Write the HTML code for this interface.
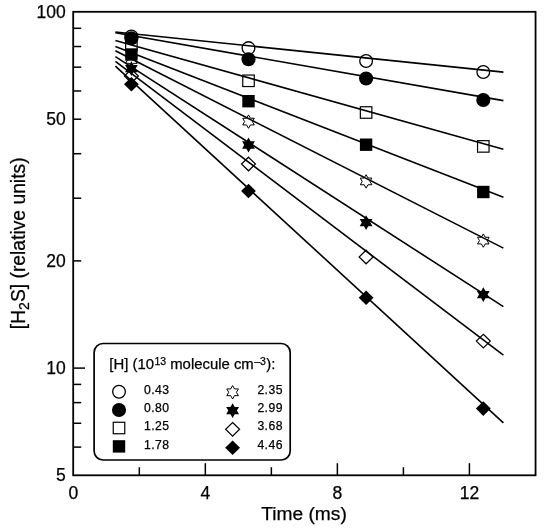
<!DOCTYPE html>
<html><head><meta charset="utf-8"><style>
html,body{margin:0;padding:0;background:#fff;width:550px;height:530px;overflow:hidden}
svg{display:block;font-family:"Liberation Sans",sans-serif}
text{stroke:#000;stroke-width:0.25px}
</style></head><body>
<svg width="550" height="530" viewBox="0 0 550 530">
<rect width="550" height="530" fill="#fff"/>
<g><line x1="115.4" y1="32.0" x2="503.4" y2="72.1" stroke="#000" stroke-width="1.6"/><line x1="115.4" y1="32.8" x2="503.4" y2="100.6" stroke="#000" stroke-width="1.6"/><line x1="115.4" y1="40.5" x2="503.4" y2="149.2" stroke="#000" stroke-width="1.6"/><line x1="115.4" y1="46.4" x2="503.4" y2="197.2" stroke="#000" stroke-width="1.6"/><line x1="115.4" y1="50.8" x2="503.4" y2="248.1" stroke="#000" stroke-width="1.6"/><line x1="115.4" y1="56.6" x2="503.4" y2="306.7" stroke="#000" stroke-width="1.6"/><line x1="115.4" y1="61.3" x2="503.4" y2="355.1" stroke="#000" stroke-width="1.6"/><line x1="115.4" y1="66.2" x2="503.4" y2="422.8" stroke="#000" stroke-width="1.6"/><circle cx="131.40" cy="36.40" r="6.35" fill="none" stroke="#000" stroke-width="1.3"/><circle cx="248.50" cy="48.10" r="6.35" fill="none" stroke="#000" stroke-width="1.3"/><circle cx="366.10" cy="61.00" r="6.35" fill="none" stroke="#000" stroke-width="1.3"/><circle cx="483.30" cy="72.05" r="6.35" fill="none" stroke="#000" stroke-width="1.3"/><circle cx="131.40" cy="38.20" r="7.05" fill="#000"/><circle cx="248.50" cy="59.20" r="7.05" fill="#000"/><circle cx="366.10" cy="78.50" r="7.05" fill="#000"/><circle cx="483.30" cy="99.95" r="7.05" fill="#000"/><rect x="125.65" y="39.25" width="11.5" height="11.5" fill="none" stroke="#000" stroke-width="1.2"/><rect x="242.75" y="75.05" width="11.5" height="11.5" fill="none" stroke="#000" stroke-width="1.2"/><rect x="360.35" y="106.75" width="11.5" height="11.5" fill="none" stroke="#000" stroke-width="1.2"/><rect x="477.55" y="140.65" width="11.5" height="11.5" fill="none" stroke="#000" stroke-width="1.2"/><rect x="125.20" y="48.30" width="12.4" height="12.4" fill="#000"/><rect x="242.30" y="95.00" width="12.4" height="12.4" fill="#000"/><rect x="359.90" y="138.50" width="12.4" height="12.4" fill="#000"/><rect x="477.10" y="185.80" width="12.4" height="12.4" fill="#000"/><polygon points="131.40,53.30 133.33,56.65 137.20,56.65 135.27,60.00 137.20,63.35 133.33,63.35 131.40,66.70 129.47,63.35 125.60,63.35 127.53,60.00 125.60,56.65 129.47,56.65" fill="none" stroke="#000" stroke-width="1.0"/><polygon points="248.50,114.90 250.43,118.25 254.30,118.25 252.37,121.60 254.30,124.95 250.43,124.95 248.50,128.30 246.57,124.95 242.70,124.95 244.63,121.60 242.70,118.25 246.57,118.25" fill="none" stroke="#000" stroke-width="1.0"/><polygon points="366.10,174.70 368.03,178.05 371.90,178.05 369.97,181.40 371.90,184.75 368.03,184.75 366.10,188.10 364.17,184.75 360.30,184.75 362.23,181.40 360.30,178.05 364.17,178.05" fill="none" stroke="#000" stroke-width="1.0"/><polygon points="483.30,233.90 485.23,237.25 489.10,237.25 487.17,240.60 489.10,243.95 485.23,243.95 483.30,247.30 481.37,243.95 477.50,243.95 479.43,240.60 477.50,237.25 481.37,237.25" fill="none" stroke="#000" stroke-width="1.0"/><polygon points="131.40,61.20 133.54,64.90 137.81,64.90 135.67,68.60 137.81,72.30 133.54,72.30 131.40,76.00 129.26,72.30 124.99,72.30 127.13,68.60 124.99,64.90 129.26,64.90" fill="#000"/><polygon points="248.50,137.60 250.64,141.30 254.91,141.30 252.77,145.00 254.91,148.70 250.64,148.70 248.50,152.40 246.36,148.70 242.09,148.70 244.23,145.00 242.09,141.30 246.36,141.30" fill="#000"/><polygon points="366.10,215.20 368.24,218.90 372.51,218.90 370.37,222.60 372.51,226.30 368.24,226.30 366.10,230.00 363.96,226.30 359.69,226.30 361.83,222.60 359.69,218.90 363.96,218.90" fill="#000"/><polygon points="483.30,287.20 485.44,290.90 489.71,290.90 487.57,294.60 489.71,298.30 485.44,298.30 483.30,302.00 481.16,298.30 476.89,298.30 479.03,294.60 476.89,290.90 481.16,290.90" fill="#000"/><polygon points="131.40,69.20 138.40,76.00 131.40,82.80 124.40,76.00" fill="none" stroke="#000" stroke-width="1.2"/><polygon points="248.50,157.20 255.50,164.00 248.50,170.80 241.50,164.00" fill="none" stroke="#000" stroke-width="1.2"/><polygon points="366.10,250.20 373.10,257.00 366.10,263.80 359.10,257.00" fill="none" stroke="#000" stroke-width="1.2"/><polygon points="483.30,334.30 490.30,341.10 483.30,347.90 476.30,341.10" fill="none" stroke="#000" stroke-width="1.2"/><polygon points="131.40,77.00 138.80,84.30 131.40,91.60 124.00,84.30" fill="#000"/><polygon points="248.50,183.70 255.90,191.00 248.50,198.30 241.10,191.00" fill="#000"/><polygon points="366.10,290.40 373.50,297.70 366.10,305.00 358.70,297.70" fill="#000"/><polygon points="483.30,401.30 490.70,408.60 483.30,415.90 475.90,408.60" fill="#000"/></g>
<g stroke="#000" stroke-width="1.5"><line x1="73.2" y1="28.29" x2="81.2" y2="28.29"/><line x1="73.2" y1="46.51" x2="81.2" y2="46.51"/><line x1="73.2" y1="67.16" x2="81.2" y2="67.16"/><line x1="73.2" y1="91.00" x2="81.2" y2="91.00"/><line x1="73.2" y1="119.20" x2="81.2" y2="119.20"/><line x1="73.2" y1="153.71" x2="81.2" y2="153.71"/><line x1="73.2" y1="198.20" x2="81.2" y2="198.20"/><line x1="73.2" y1="260.90" x2="81.2" y2="260.90"/><line x1="73.2" y1="384.39" x2="81.2" y2="384.39"/><line x1="73.2" y1="402.61" x2="81.2" y2="402.61"/><line x1="73.2" y1="423.26" x2="81.2" y2="423.26"/><line x1="73.2" y1="447.10" x2="81.2" y2="447.10"/><line x1="73.2" y1="368.10" x2="85.0" y2="368.10"/><line x1="205.34" y1="475.3" x2="205.34" y2="463.2"/><line x1="337.38" y1="475.3" x2="337.38" y2="463.2"/><line x1="469.42" y1="475.3" x2="469.42" y2="463.2"/><line x1="139.32" y1="475.3" x2="139.32" y2="467.2"/><line x1="271.36" y1="475.3" x2="271.36" y2="467.2"/><line x1="403.40" y1="475.3" x2="403.40" y2="467.2"/></g>
<rect x="73.2" y="11.8" width="462.34999999999997" height="463.5" fill="none" stroke="#000" stroke-width="1.8"/>
<g font-size="17.5"><text x="65.7" y="17.90" text-anchor="end">100</text><text x="65.7" y="125.10" text-anchor="end">50</text><text x="65.7" y="266.80" text-anchor="end">20</text><text x="65.7" y="374.00" text-anchor="end">10</text><text x="65.7" y="481.20" text-anchor="end">5</text><text x="73.30" y="498.5" text-anchor="middle">0</text><text x="205.34" y="498.5" text-anchor="middle">4</text><text x="337.38" y="498.5" text-anchor="middle">8</text><text x="469.42" y="498.5" text-anchor="middle">12</text></g>
<text x="304" y="519.7" font-size="19.2" text-anchor="middle">Time (ms)</text>
<text transform="translate(24.5,243.3) rotate(-90)" font-size="19.3" text-anchor="middle">[H<tspan dy="4.5" font-size="14">2</tspan><tspan dy="-4.5">S] (relative units)</tspan></text>
<g><rect x="94.1" y="343.5" width="196.1" height="116.5" rx="9" ry="9" fill="#fff" stroke="#000" stroke-width="1.7"/><text x="109.3" y="369.3" font-size="14.9">[H] (10<tspan dx="0.4" dy="-4.5" font-size="10.5">13</tspan><tspan dy="4.5"> molecule cm</tspan><tspan dx="0.4" dy="-4.5" font-size="10.5">&#8211;3</tspan><tspan dx="0.4" dy="4.5">):</tspan></text><circle cx="119.00" cy="391.75" r="6.35" fill="none" stroke="#000" stroke-width="1.3"/><text x="144.0" y="393.8" font-size="12.2" letter-spacing="0.45">0.43</text><circle cx="119.00" cy="410.00" r="7.05" fill="#000"/><text x="144.0" y="411.9" font-size="12.2" letter-spacing="0.45">0.80</text><rect x="113.25" y="422.25" width="11.5" height="11.5" fill="none" stroke="#000" stroke-width="1.2"/><text x="144.0" y="430.3" font-size="12.2" letter-spacing="0.45">1.25</text><rect x="112.80" y="440.20" width="12.4" height="12.4" fill="#000"/><text x="144.0" y="448.7" font-size="12.2" letter-spacing="0.45">1.78</text><polygon points="232.60,385.60 234.53,388.95 238.40,388.95 236.47,392.30 238.40,395.65 234.53,395.65 232.60,399.00 230.67,395.65 226.80,395.65 228.73,392.30 226.80,388.95 230.67,388.95" fill="none" stroke="#000" stroke-width="1.0"/><text x="257.4" y="393.8" font-size="12.2" letter-spacing="0.45">2.35</text><polygon points="232.60,403.20 234.74,406.90 239.01,406.90 236.87,410.60 239.01,414.30 234.74,414.30 232.60,418.00 230.46,414.30 226.19,414.30 228.33,410.60 226.19,406.90 230.46,406.90" fill="#000"/><text x="257.4" y="411.9" font-size="12.2" letter-spacing="0.45">2.99</text><polygon points="232.60,422.50 239.60,429.30 232.60,436.10 225.60,429.30" fill="none" stroke="#000" stroke-width="1.2"/><text x="257.4" y="430.3" font-size="12.2" letter-spacing="0.45">3.68</text><polygon points="232.60,440.50 240.00,447.80 232.60,455.10 225.20,447.80" fill="#000"/><text x="257.4" y="448.7" font-size="12.2" letter-spacing="0.45">4.46</text></g>
</svg>
</body></html>
